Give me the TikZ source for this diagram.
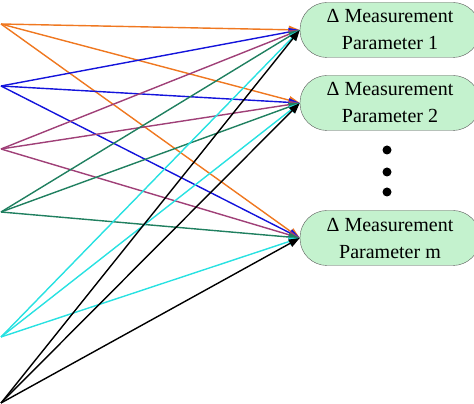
\documentclass[tikz,border=0pt]{standalone}
\usepackage{fontspec}
\setmainfont{Liberation Serif}
\usetikzlibrary{arrows.meta}

\definecolor{boxgreen}{RGB}{196,242,206}
\definecolor{lineorange}{RGB}{240,120,32}
\definecolor{lineblue}{RGB}{20,20,220}
\definecolor{linepurple}{RGB}{160,64,120}
\definecolor{lineteal}{RGB}{32,128,96}
\definecolor{linecyan}{RGB}{40,226,226}

\tikzset{
    param/.style={draw=black!65, fill=boxgreen, rounded corners=27pt,
	minimum width=180pt, minimum height=55pt, align=center,
	font=\fontsize{20}{27}\selectfont, inner sep=0pt},
    link/.style={line width=1.4pt, -{Triangle[length=11pt,width=8pt]}},
    dot/.style={circle, fill=black, inner sep=0pt, minimum size=9pt}
}

\begin{document}
\begin{tikzpicture}[x=1pt, y=1pt]
    \useasboundingbox (0, 0) rectangle (474, 404);
    % parameter boxes
    \node[param] (p1) at (390, 374) {Δ Measurement\\Parameter 1};
    \node[param] (p2) at (390, 301) {Δ Measurement\\Parameter 2};
    \node[param] (pm) at (390, 166) {Δ Measurement\\Parameter m};
    \node[dot] (d1) at (387, 254) {};
    \node[dot] (d2) at (387, 232) {};
    \node[dot] (d3) at (387, 212) {};
    % inputs on the left
    \coordinate (s1) at (1, 380);
    \coordinate (s2) at (1, 318);
    \coordinate (s3) at (1, 255);
    \coordinate (s4) at (1, 192);
    \coordinate (s5) at (1, 67);
    \coordinate (s6) at (1, 1);
    \foreach \s/\c in {s1/lineorange, s2/lineblue, s3/linepurple,
	s4/lineteal, s5/linecyan, s6/black}
	\foreach \t in {p1, p2, pm}
	    \draw[link, draw=\c, fill=black] (\s) -- (\t.west);
\end{tikzpicture}
\end{document}
